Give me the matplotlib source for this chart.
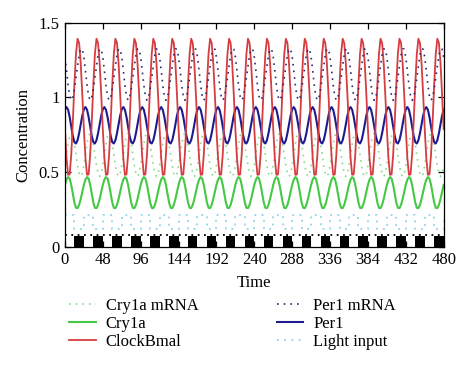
import numpy as np
import matplotlib
matplotlib.use("Agg")
import matplotlib.pyplot as plt

plt.rcParams['font.family'] = ['Liberation Serif', 'DejaVu Serif']

# ---- data (one 24 h cycle, sampled every 2 h, repeated over 20 days) ----
n_cycles = 20
cycle_hours = np.arange(0, 24, 2)
cry1a_mrna_cycle = [0.543, 0.615, 0.688, 0.741, 0.760, 0.741, 0.688, 0.615, 0.543, 0.489, 0.470, 0.489]
cry1a_cycle      = [0.414, 0.449, 0.466, 0.456, 0.414, 0.353, 0.295, 0.260, 0.258, 0.280, 0.319, 0.367]
clockbmal_cycle  = [0.788, 0.593, 0.481, 0.484, 0.616, 0.837, 1.088, 1.293, 1.393, 1.364, 1.228, 1.019]
per1_mrna_cycle  = [1.270, 1.180, 1.082, 1.008, 0.980, 1.000, 1.056, 1.134, 1.217, 1.286, 1.325, 1.323]
per1_cycle       = [0.920, 0.935, 0.917, 0.869, 0.804, 0.741, 0.700, 0.691, 0.713, 0.760, 0.820, 0.878]
light_cycle      = [0.21, 0.21, 0.21, 0.21, 0.21, 0.21, 0.12, 0.12, 0.12, 0.12, 0.12, 0.12]
dark_level = 0.07
dark_starts = list(range(12, 480, 24))
dark_length = 12

xticks = [0, 48, 96, 144, 192, 240, 288, 336, 384, 432, 480]
yticks = [0, 0.5, 1, 1.5]
yticklabels = ["0", "0.5", "1", "1.5"]

def series(cycle):
    return np.append(np.tile(cycle, n_cycles), cycle[0])

time = np.append((np.arange(n_cycles)[:, None] * 24 + cycle_hours[None, :]).ravel(), 24 * n_cycles)

fig = plt.figure(figsize=(4.74, 3.67), dpi=100)
ax = fig.add_axes([0.137, 0.328, 0.799, 0.610])

ax.bar(dark_starts, dark_level, width=dark_length, align='edge', color='black', zorder=1)
ax.axhline(dark_level + 0.005, color='black', ls=(0, (1, 2.5)), lw=1.3, zorder=1)

l1, = ax.plot(time, series(cry1a_mrna_cycle), color='#86dc86', ls=(0, (1, 3)), lw=1.2, label='Cry1a mRNA')
l6, = ax.plot(time, series(light_cycle), color='#8fd4ea', ls=(0, (1, 3)), lw=1.3,
              drawstyle='steps-post', label='Light input')
l2, = ax.plot(time, series(cry1a_cycle), color='#45c845', lw=1.5, label='Cry1a')
l5, = ax.plot(time, series(per1_cycle), color='#1c1c8e', lw=1.5, label='Per1')
l3, = ax.plot(time, series(clockbmal_cycle), color='#d63c40', lw=1.3, label='ClockBmal')
l4, = ax.plot(time, series(per1_mrna_cycle), color='#2c2c6c', ls=(0, (1, 3)), lw=1.2, label='Per1 mRNA')

ax.set_xlim(0, 480)
ax.set_ylim(0, 1.5)
ax.set_xticks(xticks)
ax.set_yticks(yticks)
ax.set_yticklabels(yticklabels)
ax.tick_params(direction='in', top=True, right=True, length=4, labelsize=12, width=0.9, pad=4)
for s in ax.spines.values():
    s.set_linewidth(0.9)
ax.set_xlabel('Time', fontsize=12, labelpad=5)
ax.set_ylabel('Concentration', fontsize=12, labelpad=5)

fig.legend(handles=[l1, l2, l3, l4, l5, l6], ncol=2, frameon=False, fontsize=12,
           loc='upper left', bbox_to_anchor=(0.128, 0.21), handlelength=1.6,
           handletextpad=0.6, columnspacing=4.7, labelspacing=0.1, borderpad=0)

fig.savefig('out.png', dpi=100)
